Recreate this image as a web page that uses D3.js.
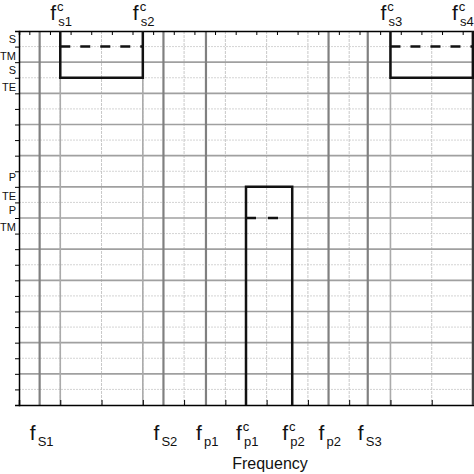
<!DOCTYPE html>
<html><head><meta charset="utf-8">
<script src="https://cdn.jsdelivr.net/npm/d3@7"></script>
<style>body{margin:0;background:#fff}text{font-family:Arial,"Liberation Sans",sans-serif}</style>
</head><body><svg id="chart" width="474" height="474"></svg>
<script>
// frequency marks (x in grid units 0..11)
var bandNames = ["S1", "S2", "p1", "p2", "S3"];
var bandFreqs = [0.5, 3.5, 4.53, 7.5, 8.45];
var critNames = ["s1", "s2", "s3", "s4"];
var critFreqs = [1, 3, 9, 11];
var passNames = ["p1", "p2"];
var passFreqs = [5.5, 6.62];
// masks: [x0, x1, top, solid bottom, dashed level]
var stopMasks = [[1, 3, 12, 10.5, 11.5], [9, 11, 12, 10.5, 11.5]];
var passMask = [5.5, 6.62, 7, 0, 6];
var yLabels = [["S", 11.75], ["TM", 11.2], ["S", 10.75], ["TE", 10.2], ["P", 7.3], ["TE", 6.7], ["P", 6.25], ["TM", 5.7]];

var svg = d3.select("#chart");
var x = d3.scaleLinear().domain([0, 11]).range([19, 473]);
var y = d3.scaleLinear().domain([0, 12]).range([405, 31]);

// minor grid
svg.selectAll(".hmin").data(d3.range(0.5, 12, 1)).enter().append("line")
  .attr("x1", 19).attr("x2", 473).attr("y1", y).attr("y2", y)
  .attr("stroke", "#d4d4d4").attr("stroke-dasharray", "2,1");
svg.selectAll(".vmin").data(d3.range(1, 11)).enter().append("line")
  .attr("y1", 31).attr("y2", 405).attr("x1", x).attr("x2", x)
  .attr("stroke", "#c8c8c8").attr("stroke-dasharray", "3,1");
// major horizontal grid
svg.selectAll(".hmaj").data(d3.range(1, 12)).enter().append("line")
  .attr("x1", 19).attr("x2", 473).attr("y1", y).attr("y2", y)
  .attr("stroke", "#a0a0a0").attr("stroke-width", 1.6);

// vertical marker lines
svg.selectAll(".crit").data(critFreqs).enter().append("line")
  .attr("x1", x).attr("x2", x).attr("y1", 31).attr("y2", 405)
  .attr("stroke", "#aaa").attr("stroke-width", 1.6);
svg.selectAll(".band").data(bandFreqs).enter().append("line")
  .attr("x1", x).attr("x2", x).attr("y1", 31).attr("y2", 405)
  .attr("stroke", "#808080").attr("stroke-width", 2.2);

// axes
svg.append("g").attr("transform", "translate(0,405)")
  .call(d3.axisBottom(x).tickValues(d3.range(0, 12)).tickSize(-5).tickFormat(""))
  .call(g => g.select(".domain").attr("stroke-width", 1.5));
svg.append("g").attr("transform", "translate(0,31)")
  .call(d3.axisTop(x).tickValues(d3.range(0.25, 11, 0.5)).tickSize(-4).tickFormat(""))
  .call(g => g.select(".domain").attr("stroke-width", 1.5));
svg.append("g").attr("transform", "translate(19,0)")
  .call(d3.axisLeft(y).tickValues(d3.range(0, 12.5, 0.5)).tickSize(4).tickFormat(""))
  .call(g => g.select(".domain").attr("stroke-width", 1.5));
svg.append("line").attr("x1", 473).attr("x2", 473).attr("y1", 31).attr("y2", 405)
  .attr("stroke", "#444").attr("stroke-width", 2.5);

// masks
stopMasks.forEach(function (m) {
  svg.append("path")
    .attr("d", "M" + x(m[0]) + "," + y(m[2]) + "V" + y(m[3]) + "H" + x(m[1]) + "V" + y(m[2]))
    .attr("fill", "none").attr("stroke", "#111").attr("stroke-width", 2.5);
  svg.append("line").attr("x1", x(m[0])).attr("x2", x(m[1])).attr("y1", y(m[4])).attr("y2", y(m[4]))
    .attr("stroke", "#111").attr("stroke-width", 2.5).attr("stroke-dasharray", "10,10");
});
svg.append("path")
  .attr("d", "M" + x(passMask[0]) + "," + y(passMask[3]) + "V" + y(passMask[2]) + "H" + x(passMask[1]) + "V" + y(passMask[3]))
  .attr("fill", "none").attr("stroke", "#111").attr("stroke-width", 2.5);
svg.append("line").attr("x1", x(passMask[0])).attr("x2", x(passMask[0]) + 34)
  .attr("y1", y(passMask[4])).attr("y2", y(passMask[4]))
  .attr("stroke", "#111").attr("stroke-width", 2.5).attr("stroke-dasharray", "10,12");

// labels
function fLabel(cx, baseY, sub, sup) {
  var t = svg.append("text").attr("x", cx - 10).attr("y", baseY).attr("fill", "#111");
  t.append("tspan").text("f").attr("font-size", 21);
  if (sup) t.append("tspan").text("c").attr("font-size", 13).attr("dy", -9).attr("dx", 1);
  t.append("tspan").text(sub).attr("font-size", 13).attr("x", cx - 2).attr("dy", sup ? 15 : 6);
}
bandNames.forEach((n, i) => fLabel(x(bandFreqs[i]), 440, n, false));
passNames.forEach((n, i) => fLabel(x(passFreqs[i]), 440, n, true));
critNames.forEach((n, i) => fLabel(Math.min(x(critFreqs[i]), 462), 20, n, true));
svg.append("text").attr("x", 270).attr("y", 469).attr("text-anchor", "middle")
  .attr("font-size", 16).attr("fill", "#111").text("Frequency");
yLabels.forEach(function (d) {
  svg.append("text").attr("x", 16).attr("y", y(d[1]) + 4).attr("text-anchor", "end")
    .attr("font-size", 11).attr("fill", "#111").text(d[0]);
});
</script></body></html>
